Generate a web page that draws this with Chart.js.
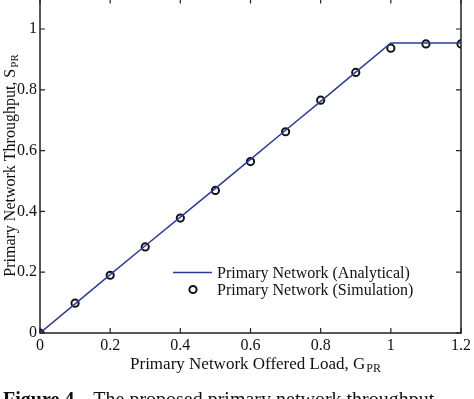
<!DOCTYPE html>
<html>
<head>
<meta charset="utf-8">
<script src="https://cdn.jsdelivr.net/npm/chart.js@4"></script>
<style>
  html, body { margin: 0; padding: 0; background: #fff; overflow: hidden; }
  #wrap { position: relative; width: 474px; height: 399px; overflow: hidden; }
  #chart { position: absolute; left: 0; top: -14px; }
  #caption {
    position: absolute; left: 3px; top: 388px; white-space: nowrap;
    font-family: "Liberation Serif", serif; font-size: 20px; color: #111;
  }
  #caption b { margin-right: 14px; }
</style>
</head>
<body>
<div id="wrap">
  <canvas id="chart" width="474" height="413"></canvas>
  <div id="caption"><b>Figure 4.</b>The proposed primary network throughput.</div>
</div>
<script>
const offeredLoad = [0, 0.1, 0.2, 0.3, 0.4, 0.5, 0.6, 0.7, 0.8, 0.9, 1.0, 1.1, 1.2];
const analytical = [0, 0.096, 0.192, 0.287, 0.381, 0.476, 0.571, 0.667, 0.762, 0.858, 0.954, 0.954, 0.954];
const simulation = [0, 0.098, 0.190, 0.283, 0.378, 0.469, 0.564, 0.662, 0.766, 0.857, 0.937, 0.951, 0.951];
const xTicks = [0, 0.2, 0.4, 0.6, 0.8, 1.0, 1.2];
const yTicks = [0, 0.2, 0.4, 0.6, 0.8, 1.0];
const seriesNames = ["Primary Network (Analytical)", "Primary Network (Simulation)"];

const serif = "'Liberation Serif', 'Times New Roman', serif";
const lineColour = "#2d3c96";
const shift = 14; // canvas sits this far above the page

function fmt(v) {
  return String(Number(v.toFixed(1)));
}

// text with a subscript part, e.g. G + PR
function subText(ctx, main, sub, x, y, size) {
  ctx.font = size + "px " + serif;
  const w1 = ctx.measureText(main).width;
  ctx.font = Math.round(size * 0.7) + "px " + serif;
  const w2 = ctx.measureText(sub).width;
  let left = x - (w1 + w2) / 2;
  ctx.textAlign = "left";
  ctx.font = size + "px " + serif;
  ctx.fillText(main, left, y);
  ctx.font = Math.round(size * 0.7) + "px " + serif;
  ctx.fillText(sub, left + w1 + 1, y + size * 0.18);
}

const framePlugin = {
  id: "frame",
  afterDatasetsDraw(chart) {
    const ctx = chart.ctx;
    const a = chart.chartArea;
    const xs = chart.scales.x;
    const ys = chart.scales.y;
    ctx.save();
    ctx.strokeStyle = "#222";
    ctx.lineWidth = 1.5;
    ctx.strokeRect(a.left, a.top, a.right - a.left, a.bottom - a.top);
    // inward ticks on all four sides
    ctx.lineWidth = 1.2;
    ctx.beginPath();
    xTicks.forEach(v => {
      const px = xs.getPixelForValue(v);
      ctx.moveTo(px, a.bottom); ctx.lineTo(px, a.bottom - 5);
      ctx.moveTo(px, a.top); ctx.lineTo(px, a.top + 5);
    });
    yTicks.forEach(v => {
      const py = ys.getPixelForValue(v);
      ctx.moveTo(a.left, py); ctx.lineTo(a.left + 5, py);
      ctx.moveTo(a.right, py); ctx.lineTo(a.right - 5, py);
    });
    ctx.stroke();

    ctx.translate(0, shift);
    // legend
    ctx.fillStyle = "#111";
    ctx.textBaseline = "alphabetic";
    ctx.font = "16px " + serif;
    ctx.strokeStyle = lineColour;
    ctx.lineWidth = 1.5;
    ctx.beginPath();
    ctx.moveTo(173, 272.5); ctx.lineTo(212, 272.5);
    ctx.stroke();
    ctx.strokeStyle = "#111";
    ctx.lineWidth = 2;
    ctx.beginPath();
    ctx.arc(193, 289.5, 3.6, 0, Math.PI * 2);
    ctx.stroke();
    ctx.textAlign = "left";
    ctx.fillText(seriesNames[0], 217, 277.5);
    ctx.fillText(seriesNames[1], 217, 295);

    // axis titles
    subText(ctx, "Primary Network Offered Load, G", "PR", 255, 369, 17);
    ctx.translate(15, 166);
    ctx.rotate(-Math.PI / 2);
    subText(ctx, "Primary Network Throughput, S", "PR", 0, 0, 16);
    ctx.restore();
  }
};

new Chart(document.getElementById("chart"), {
  type: "line",
  data: {
    datasets: [
      {
        label: seriesNames[0],
        data: offeredLoad.map((x, i) => ({ x: x, y: analytical[i] })),
        borderColor: lineColour,
        borderWidth: 1.5,
        pointRadius: 0,
        tension: 0,
      },
      {
        label: seriesNames[1],
        data: offeredLoad.map((x, i) => ({ x: x, y: simulation[i] })),
        showLine: false,
        borderColor: "#111",
        backgroundColor: "rgba(0,0,0,0)",
        pointRadius: 3.6,
        pointBorderWidth: 2,
      },
    ],
  },
  options: {
    responsive: false,
    animation: false,
    events: [],
    layout: { padding: { top: 0, right: 11, left: 0, bottom: 0 } },
    plugins: { legend: { display: false }, tooltip: { enabled: false } },
    scales: {
      x: {
        type: "linear",
        min: 0,
        max: 1.2,
        afterBuildTicks: s => { s.ticks = xTicks.map(v => ({ value: v })); },
        afterFit: s => { s.height = 66; },
        grid: { display: false, drawTicks: false },
        border: { display: false },
        ticks: {
          padding: 3,
          color: "#111",
          font: { family: serif, size: 16 },
          callback: v => fmt(v),
        },
      },
      y: {
        type: "linear",
        min: 0,
        max: 1.1,
        afterBuildTicks: s => { s.ticks = yTicks.map(v => ({ value: v })); },
        afterFit: s => { s.width = 40; },
        grid: { display: false, drawTicks: false },
        border: { display: false },
        ticks: {
          padding: 3,
          color: "#111",
          font: { family: serif, size: 16 },
          callback: v => fmt(v),
        },
      },
    },
  },
  plugins: [framePlugin],
});
</script>
</body>
</html>
